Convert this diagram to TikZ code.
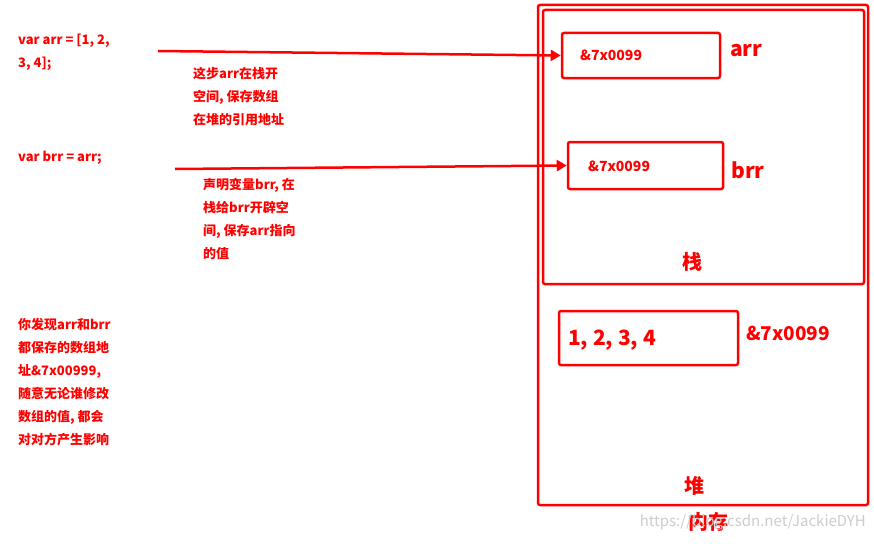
\documentclass[tikz,border=0pt]{standalone}
\usepackage{fontspec}
\setmainfont{Noto Sans CJK SC}
\usetikzlibrary{arrows.meta}
\definecolor{rd}{RGB}{255,0,0}
\tikzset{
  box/.style={draw=rd,line width=2.5pt,rounded corners=2pt},
  lbl/.style={text=rd,font=\bfseries\fontsize{#1}{23}\selectfont,inner sep=0pt},
  note/.style={text=rd,font=\bfseries\fontsize{13}{23}\selectfont,inner sep=0pt,anchor=north west,align=left},
  arr/.style={draw=rd,line width=2.5pt,-{Triangle[length=10pt,width=11pt]}}
}
\begin{document}
\begin{tikzpicture}[x=1pt,y=-1pt]
\useasboundingbox (0,0) rectangle (874,543);
\draw[box] (538,5) rectangle (868,505);
\draw[box] (543,10) rectangle (864,284);
\node[box,minimum width=158pt,minimum height=45pt] (a) at (641,55.5) {};
\node[box,minimum width=155pt,minimum height=47pt] (b) at (645.5,165.5) {};
\node[box,minimum width=179pt,minimum height=54pt] (h) at (648.5,338) {};
\node[lbl=14,anchor=west] at (580,55) {\&7x0099};
\node[lbl=14,anchor=west] at (588,166) {\&7x0099};
\node[lbl=21,anchor=west] at (568,340) {1, 2, 3, 4};
\node[lbl=21,anchor=west] (an) at (730,51) {arr};
\node[lbl=21,anchor=west] (bn) at (731,170) {brr};
\node[lbl=19,anchor=west] (hn) at (746,333) {\&7x0099};
\node[lbl=20] (s) at (692,262) {栈};
\node[lbl=20] (d) at (694,486) {堆};
\node[lbl=20] (m) at (708,522) {内存};
\node[text=black!20,font=\fontsize{15}{15}\selectfont,inner sep=0pt,anchor=east] (w) at (866,522) {https://blog.csdn.net/JackieDYH};
\node[note] (c1) at (18,34) {var arr = [1, 2,\\3, 4];};
\node[note] (t1) at (193,67) {这步arr在栈开\\空间, 保存数组\\在堆的引用地址};
\node[note] (c2) at (18,151) {var brr = arr;};
\node[note] (t2) at (203,178) {声明变量brr, 在\\栈给brr开辟空\\间, 保存arr指向\\的值};
\node[note] (t3) at (18,318) {你发现arr和brr\\都保存的数组地\\址\&7x00999,\\随意无论谁修改\\数组的值, 都会\\对对方产生影响};
\coordinate (s1) at (158,51);
\coordinate (s2) at (175,169);
\draw[arr] (s1) -- (a.west);
\draw[arr] (s2) -- (b.west);
\end{tikzpicture}
\end{document}
